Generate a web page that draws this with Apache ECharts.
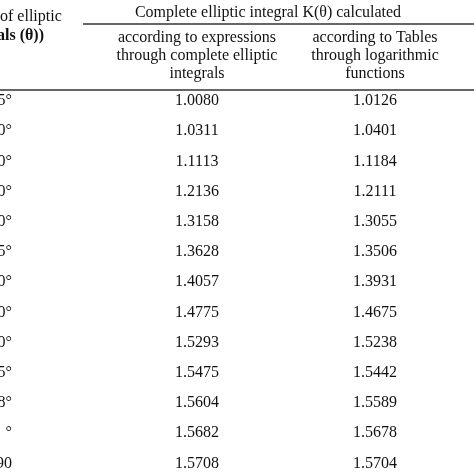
<!DOCTYPE html>
<html><head><meta charset="utf-8">
<script src="https://cdn.jsdelivr.net/npm/echarts@6/dist/echarts.min.js"></script>
<style>html,body{margin:0;padding:0;background:#fff}#c{width:474px;height:474px}</style>
</head><body><div id="c"></div>
<script>
// table contents
const angles = ['15°', '20°', '30°', '40°', '50°', '55°', '60°', '70°', '80°', '85°', '88°', '°', '90'];
const kExpr = ['1.0080', '1.0311', '1.1113', '1.2136', '1.3158', '1.3628', '1.4057', '1.4775', '1.5293', '1.5475', '1.5604', '1.5682', '1.5708'];
const kTable = ['1.0126', '1.0401', '1.1184', '1.2111', '1.3055', '1.3506', '1.3931', '1.4675', '1.5238', '1.5442', '1.5589', '1.5678', '1.5704'];

const chart = echarts.init(document.getElementById('c'));
const font = '16px "Liberation Serif", "Times New Roman", serif';
const els = [];
function txt(x, y, s, align, f) {
  els.push({type: 'text', x: x, y: y, style: {text: s, font: f || font, fill: '#111', align: align || 'center', verticalAlign: 'middle'}});
}
function line(x1, y1, x2) {
  els.push({type: 'line', shape: {x1: x1, y1: y1, x2: x2, y2: y1}, style: {stroke: '#333', lineWidth: 1.3}});
}
txt(0, 17, 'of elliptic', 'left');
txt(-3, 36, 'als (θ))', 'left', 'bold 16px "Liberation Serif", serif');
txt(268, 13, 'Complete elliptic integral K(θ) calculated');
line(83, 24, 474);
txt(197, 38, 'according to expressions');
txt(197, 56, 'through complete elliptic');
txt(197, 74, 'integrals');
txt(375, 38, 'according to Tables');
txt(375, 56, 'through logarithmic');
txt(375, 74, 'functions');
line(0, 90, 474);
angles.forEach((a, i) => {
  const y = 101 + i * 30.2;
  txt(12, y, a, 'right');
  txt(197, y, kExpr[i]);
  txt(375, y, kTable[i]);
});
chart.setOption({animation: false, graphic: {elements: els}});
</script></body></html>
